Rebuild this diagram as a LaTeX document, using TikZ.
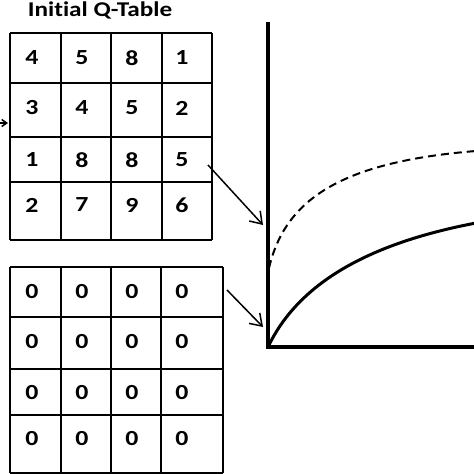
\documentclass[tikz,border=0pt]{standalone}
\usepackage{fontspec}
\usepackage{graphicx}
\setmainfont{Carlito}[Ligatures=NoCommon]
\usetikzlibrary{arrows.meta}
\newcommand{\wide}[1]{\scalebox{1.2}[1.0]{#1}}
\begin{document}
\begin{tikzpicture}[x=1pt,y=-1pt,
  grid/.style={line width=2pt},
  digit/.style={font=\bfseries\fontsize{21.5}{26}\selectfont, inner sep=0pt},
  axis/.style={line width=4pt},
  conn/.style={line width=1.5pt,-{Straight Barb[length=11pt,width=15pt,line width=1.5pt]}},
  curveA/.style={line width=3pt},
  curveB/.style={line width=2pt,dash pattern=on 8pt off 5pt}]
\useasboundingbox (0,0) rectangle (474,474);
% title
\node[font=\bfseries\fontsize{21}{26}\selectfont, inner sep=0pt] (title) at (100,10.5) {\wide{Initial Q-Table}};
% top table
\foreach \xa in {10,61,111,162,212} \draw[grid] (\xa,33) -- (\xa,240);
\foreach \ya in {33,83,137,182,240} \draw[grid] (10,\ya) -- (212,\ya);
% bottom table
\foreach \xa in {10,61,111,161,223} \draw[grid] (\xa,267) -- (\xa,473);
\foreach \ya in {267,317,369,415,473} \draw[grid] (10,\ya) -- (223,\ya);
% top digits
\foreach \r/\yy/\a/\b/\c/\d in {1/58/4/5/8/1, 2/108/3/4/5/2, 3/160/1/8/8/5, 4/205/2/7/9/6}{
  \node[digit] (t\r a) at (32,\yy) {\wide{\a}};
  \node[digit] (t\r b) at (82,\yy) {\wide{\b}};
  \node[digit] (t\r c) at (132,\yy) {\wide{\c}};
  \node[digit] (t\r d) at (182,\yy) {\wide{\d}};
}
% bottom digits
\foreach \r/\yy in {1/292, 2/342, 3/393, 4/439}{
  \node[digit] (b\r a) at (32,\yy) {\wide{0}};
  \node[digit] (b\r b) at (82,\yy) {\wide{0}};
  \node[digit] (b\r c) at (132,\yy) {\wide{0}};
  \node[digit] (b\r d) at (182,\yy) {\wide{0}};
}
% axes
\coordinate (top) at (268,22);
\coordinate (origin) at (268,347);
\coordinate (right) at (480,347);
\draw[axis] (top) -- (origin) -- (right);
% curves
\coordinate (dstart) at (269,268);
\coordinate (dend) at (476,151);
\draw[curveB] (dstart) .. controls (285,200) and (340,162) .. (dend);
\coordinate (sstart) at (269,345);
\coordinate (send) at (476,223);
\draw[curveA] (sstart) .. controls (297,288) and (360,245) .. (send);
% connectors
\coordinate (a1s) at (208,165);
\coordinate (a1e) at (263,225);
\draw[conn] (a1s) -- (a1e);
\coordinate (a2s) at (227,290);
\coordinate (a2e) at (263,327);
\draw[conn] (a2s) -- (a2e);
\coordinate (a0s) at (-10,123);
\coordinate (a0e) at (8,123);
\draw[line width=1.5pt,-{Straight Barb[length=5pt,width=7pt,line width=1.5pt]}] (a0s) -- (a0e);
\end{tikzpicture}
\end{document}
